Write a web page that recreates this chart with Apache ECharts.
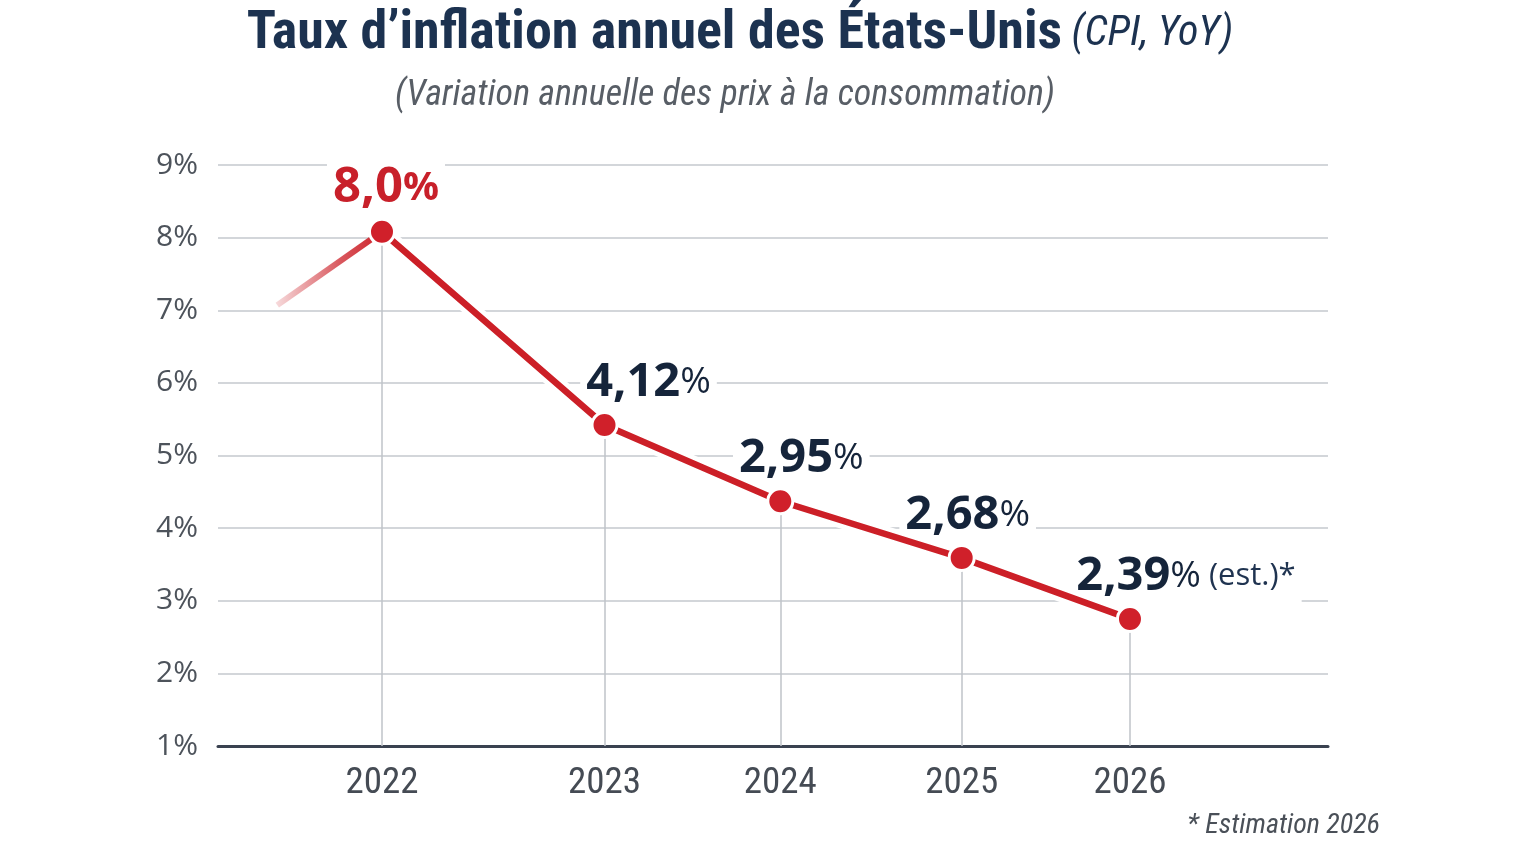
<!DOCTYPE html>
<html>
<head>
<meta charset="utf-8">
<script src="https://cdn.jsdelivr.net/npm/echarts@6/dist/echarts.min.js"></script>
<style>
html,body{margin:0;padding:0;background:#fff;}
#chart{width:1536px;height:863px;}
</style>
</head>
<body>
<div id="chart"></div>
<script>
// ---- data ----
var years = ['2022', '2023', '2024', '2025', '2026'];
// horizontal positions of the points along the (unevenly spaced) time axis
var xPos = [2022, 2023.19, 2024.13, 2025.10, 2026];
// plotted heights (%)
var yVals = [8.08, 5.42, 4.37, 3.59, 2.75];
// printed labels
var labelNums = ['8,0', '4,12', '2,95', '2,68', '2,39'];
var labelSuffix = ['', '', '', '', ' (est.)*'];
// faded lead-in segment before 2022
var leadIn = [[2021.44, 7.07], [2022, 8.08]];
var yTicks = [1, 2, 3, 4, 5, 6, 7, 8, 9];

var narrow = '"Roboto Condensed", "Liberation Sans Narrow", "Open Sans", sans-serif';
var RED = '#cc1f27';
var NAVY = '#15243a';

var chart = echarts.init(document.getElementById('chart'));

var labelOffsets = [[4, 0], [44, 0], [21, 0], [6, 0], [56, 0]];
var points = xPos.map(function (x, i) { return [x, yVals[i]]; });

var labelData = xPos.map(function (x, i) {
  var isFirst = i === 0;
  return {
    value: [x, yVals[i]],
    label: {
      offset: labelOffsets[i],
      formatter: function () {
        var s = isFirst ? '{r|' + labelNums[i] + '}{rp|%}' : '{n|' + labelNums[i] + '}{p|%}';
        if (labelSuffix[i]) s += '{e|' + labelSuffix[i] + '}';
        return s;
      }
    }
  };
});

var option = {
  backgroundColor: '#ffffff',
  animation: false,
  grid: { left: 218, right: 208, top: 165, bottom: 117 },
  xAxis: {
    type: 'value',
    min: 2021.123,
    max: 2027.059,
    axisLine: { show: true, lineStyle: { color: '#3a4250', width: 3 } },
    axisTick: { show: false },
    splitLine: { show: false },
    axisLabel: {
      customValues: xPos,
      formatter: function (v) {
        var idx = xPos.indexOf(v);
        return idx >= 0 ? years[idx] : '';
      },
      margin: 19,
      fontFamily: narrow,
      fontSize: 37,
      color: '#454b54'
    }
  },
  yAxis: {
    type: 'value',
    min: 1,
    max: 9,
    interval: 1,
    axisLine: { show: false },
    axisTick: { show: false },
    axisLabel: {
      formatter: '{value}%',
      margin: 20,
      fontFamily: '"Open Sans", sans-serif',
      fontSize: 30,
      color: '#4d535b'
    },
    splitLine: { lineStyle: { color: '#d3d6da', width: 2 } }
  },
  series: [
    {
      type: 'line',
      data: leadIn,
      symbol: 'none',
      silent: true,
      z: 2,
      lineStyle: {
        width: 6,
        color: new echarts.graphic.LinearGradient(0, 0, 1, 0, [
          { offset: 0, color: 'rgba(204,31,39,0.15)' },
          { offset: 0.6, color: 'rgba(204,31,39,0.75)' },
          { offset: 1, color: RED }
        ])
      }
    },
    {
      type: 'line',
      data: points,
      symbol: 'none',
      silent: true,
      z: 2,
      lineStyle: { width: 16, color: '#ffffff' }
    },
    {
      type: 'scatter',
      data: labelData,
      z: 2,
      symbolSize: 25,
      itemStyle: { color: 'rgba(255,255,255,0)', opacity: 1 },
      silent: true,
      label: {
        show: true,
        position: 'top',
        distance: 4,
        backgroundColor: '#ffffff',
        padding: [0, 6, 0, 6],
        rich: {
          r: { fontFamily: '"Open Sans", sans-serif', fontWeight: 700, fontSize: 49, lineHeight: 54, color: '#c8202a' },
          rp: { fontFamily: '"Open Sans", sans-serif', fontWeight: 700, fontSize: 40, lineHeight: 54, color: '#c8202a' },
          n: { fontFamily: '"Open Sans", sans-serif', fontWeight: 700, fontSize: 47, lineHeight: 52, color: NAVY },
          p: { fontFamily: '"Open Sans", sans-serif', fontWeight: 500, fontSize: 37, lineHeight: 52, color: NAVY },
          e: { fontFamily: '"Open Sans", sans-serif', fontWeight: 400, fontSize: 31, lineHeight: 52, color: '#1f3350' }
        }
      }
    },
    {
      type: 'line',
      data: points,
      z: 3,
      symbol: 'circle',
      symbolSize: 25,
      itemStyle: { color: '#d0202a', borderColor: '#ffffff', borderWidth: 3 },
      lineStyle: { width: 6.5, color: RED },
      label: { show: false },
      markLine: {
        silent: true,
        symbol: 'none',
        z: 1,
        label: { show: false },
        lineStyle: { color: '#bfc3c8', width: 1.5, type: 'solid' },
        data: xPos.map(function (x, i) {
          return [{ coord: [x, yVals[i]] }, { coord: [x, yTicks[0]] }];
        })
      }
    }
  ],
  graphic: [
    {
      type: 'text',
      x: 740,
      y: 34,
      style: {
        text: '{t|Taux d\u2019inflation annuel des \u00c9tats-Unis}{s| (CPI, YoY)}',
        textAlign: 'center',
        textVerticalAlign: 'middle',
        rich: {
          t: { fontFamily: narrow, fontWeight: 700, fontSize: 54, fill: '#1c3250' },
          s: { fontFamily: narrow, fontStyle: 'italic', fontSize: 42, fill: '#1c3250' }
        }
      }
    },
    {
      type: 'text',
      x: 725,
      y: 96,
      style: {
        text: '(Variation annuelle des prix \u00e0 la consommation)',
        textAlign: 'center',
        textVerticalAlign: 'middle',
        fontFamily: narrow,
        fontStyle: 'italic',
        fontSize: 36,
        fill: '#585e66'
      }
    },
    {
      type: 'text',
      x: 1380,
      y: 826,
      style: {
        text: '* Estimation 2026',
        textAlign: 'right',
        textVerticalAlign: 'middle',
        fontFamily: narrow,
        fontStyle: 'italic',
        fontSize: 28,
        fill: '#4a5058'
      }
    }
  ]
};

chart.setOption(option);
</script>
</body>
</html>
